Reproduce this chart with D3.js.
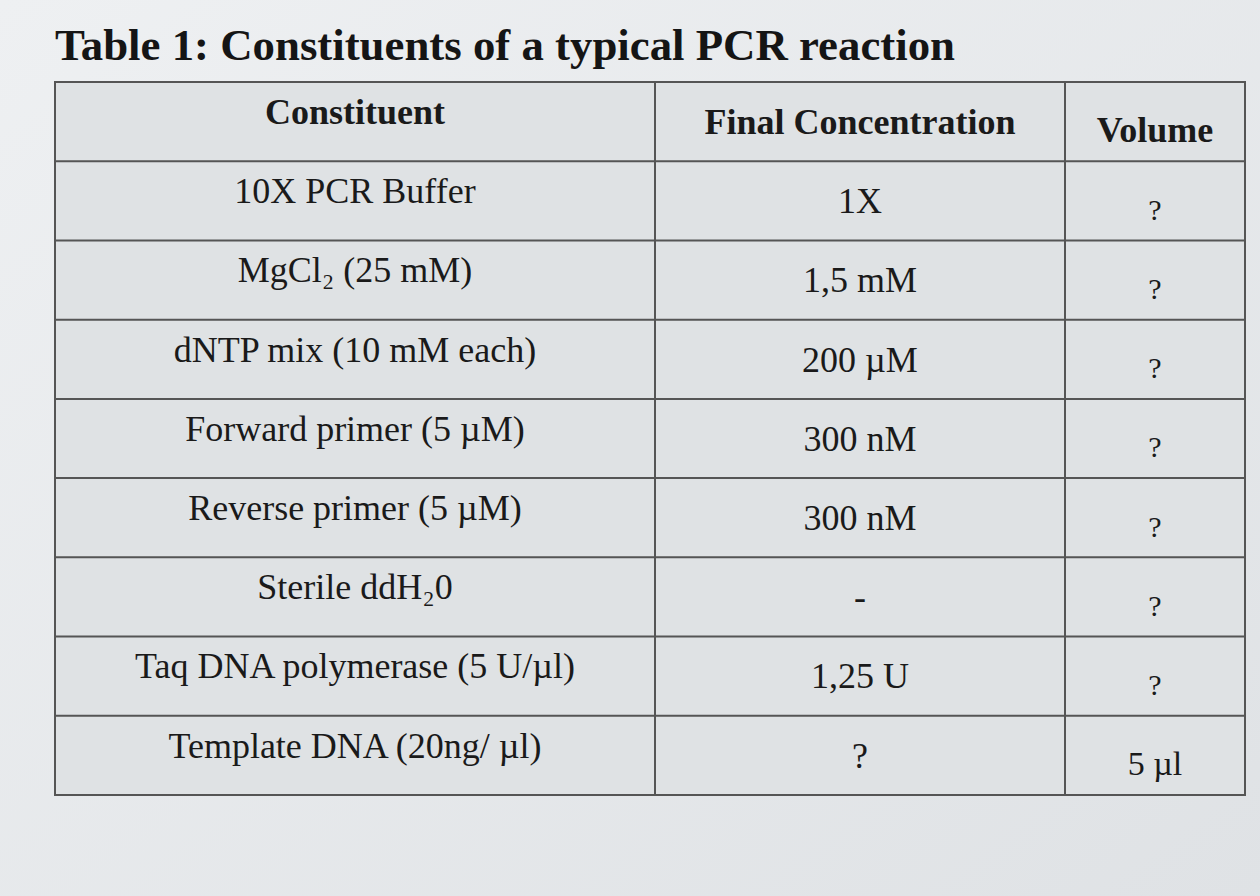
<!DOCTYPE html>
<html>
<head>
<title>Table 1 | D3</title>
<script src="https://d3js.org/d3.v7.min.js" charset="utf-8"></script>
<style>
body { margin: 0; background: #e6e8ea; }
</style>
</head>
<body>
<script>
var headers = ["Constituent", "Final Concentration", "Volume"];
var constituents = ["10X PCR Buffer", "MgCl₂ (25 mM)", "dNTP mix (10 mM each)", "Forward primer (5 µM)",
  "Reverse primer (5 µM)", "Sterile ddH₂0", "Taq DNA polymerase (5 U/µl)", "Template DNA (20ng/ µl)"];
var concentrations = ["1X", "1,5 mM", "200 µM", "300 nM", "300 nM", "-", "1,25 U", "?"];
var volumes = ["?", "?", "?", "?", "?", "?", "?", "5 µl"];

var width = 1260, height = 896;
var svg = d3.select("body").append("svg").attr("width", width).attr("height", height);

// background with a soft light gradient
var grad = svg.append("defs").append("linearGradient").attr("id", "bg")
  .attr("x1", 0).attr("y1", 0).attr("x2", 1).attr("y2", 1);
grad.append("stop").attr("offset", 0).attr("stop-color", "#eef0f2");
grad.append("stop").attr("offset", 1).attr("stop-color", "#dfe2e5");
svg.append("rect").attr("width", width).attr("height", height).attr("fill", "url(#bg)");

svg.append("text").attr("x", 55).attr("y", 60)
  .attr("font-family", "Liberation Serif").attr("font-weight", "bold").attr("font-size", 44)
  .attr("textLength", 900).attr("lengthAdjust", "spacingAndGlyphs")
  .attr("fill", "#151515").text("Table 1:  Constituents of a typical PCR reaction");

var rows = ["header"].concat(constituents);
var y = d3.scaleBand().domain(d3.range(rows.length)).range([82, 795]);
var colEdges = [55, 655, 1065, 1245];
var x = d3.scaleOrdinal().domain([0, 1, 2]).range([0, 1, 2].map(i => (colEdges[i] + colEdges[i + 1]) / 2));

var g = svg.append("g");
g.append("rect").attr("x", colEdges[0]).attr("y", 82)
  .attr("width", colEdges[3] - colEdges[0]).attr("height", 795 - 82)
  .attr("fill", "#dfe2e4").attr("stroke", "#555").attr("stroke-width", 2);

g.selectAll("line.h").data(d3.range(1, rows.length)).enter().append("line")
  .attr("x1", colEdges[0]).attr("x2", colEdges[3])
  .attr("y1", d => y(d)).attr("y2", d => y(d))
  .attr("stroke", "#555").attr("stroke-width", 2);
g.selectAll("line.v").data([1, 2]).enter().append("line")
  .attr("x1", d => colEdges[d]).attr("x2", d => colEdges[d])
  .attr("y1", 82).attr("y2", 795)
  .attr("stroke", "#555").attr("stroke-width", 2);

var cells = [];
headers.forEach((t, c) => cells.push({ r: 0, c: c, t: t, bold: true }));
constituents.forEach((t, i) => {
  cells.push({ r: i + 1, c: 0, t: t });
  cells.push({ r: i + 1, c: 1, t: concentrations[i] });
  cells.push({ r: i + 1, c: 2, t: volumes[i] });
});

g.selectAll("text.cell").data(cells).enter().append("text")
  .attr("x", d => x(d.c))
  .attr("y", d => y(d.r) + y.bandwidth() / 2 + (d.c === 0 ? -6 : d.c === 1 ? 4 : 12))
  .attr("text-anchor", "middle").attr("dominant-baseline", "middle")
  .attr("font-family", "Liberation Serif")
  .attr("font-size", d => d.bold ? 36 : d.c === 2 ? (d.t === "?" ? 30 : 34) : 36)
  .attr("font-weight", d => d.bold ? "bold" : "normal")
  .attr("fill", "#1a1a1a").text(d => d.t);
</script>
</body>
</html>
